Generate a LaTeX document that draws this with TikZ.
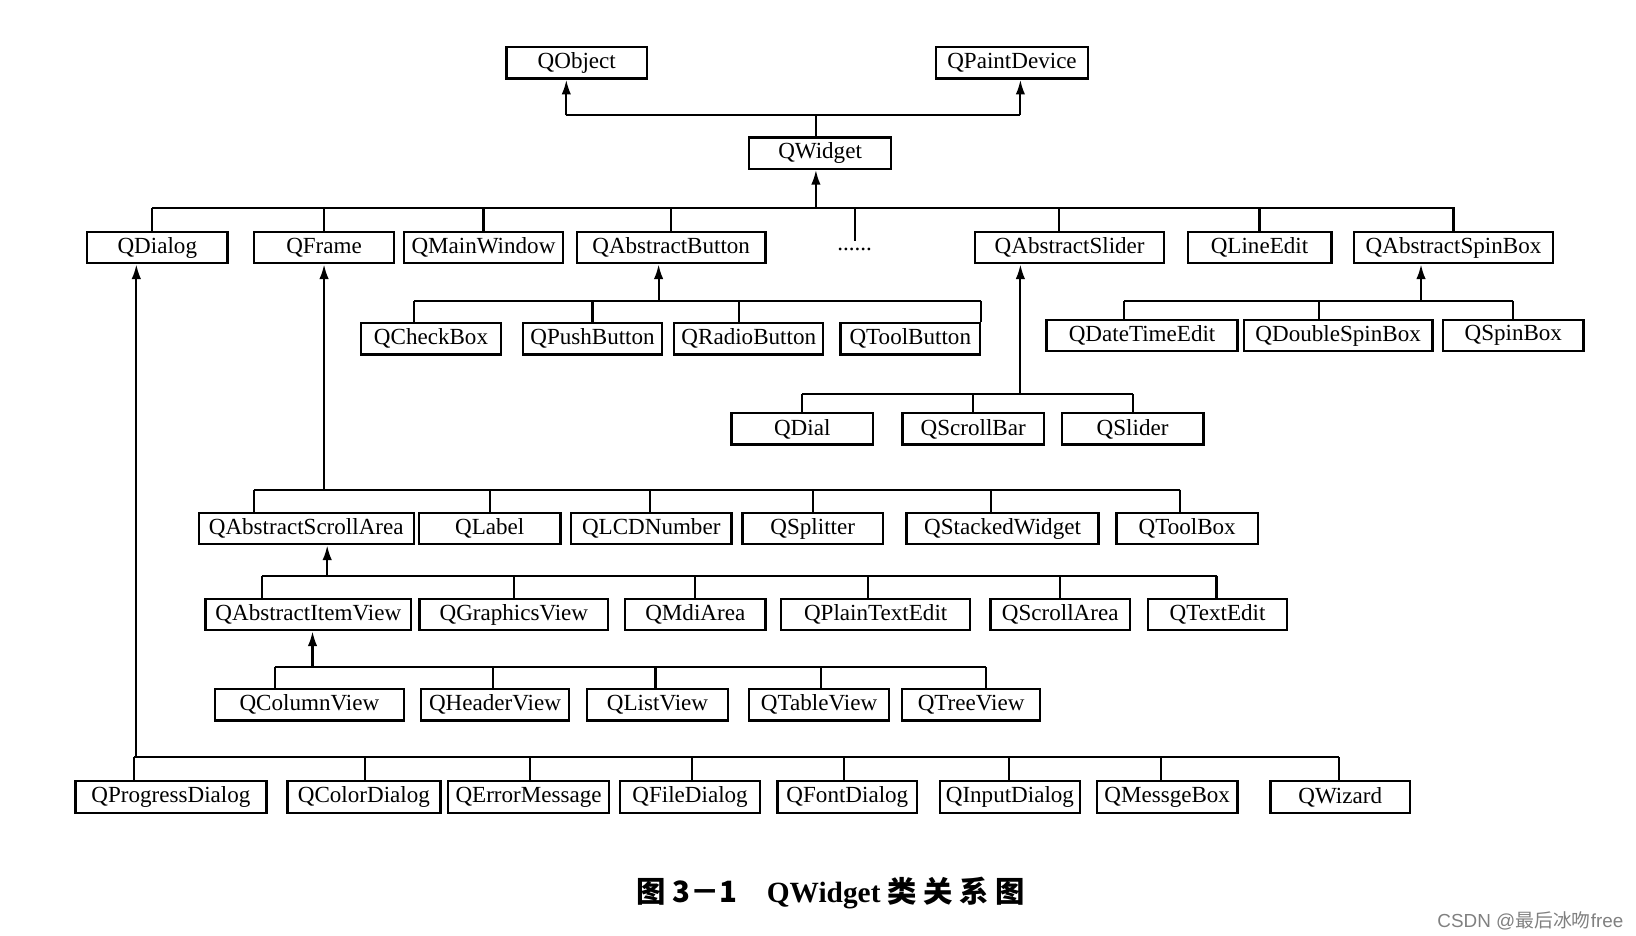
\documentclass[tikz,border=0pt]{standalone}
\usepackage{fontspec}
\setmainfont{Liberation Serif}
\newfontfamily\cjk{Noto Sans CJK SC}
\usetikzlibrary{arrows.meta}
\begin{document}
\begin{tikzpicture}[x=0.5pt,y=-0.5pt,
  cls/.style={draw,line width=1.1pt,minimum height=15pt,inner sep=0pt,font=\fontsize{11}{12}\selectfont},
  ln/.style={line width=1pt},
  up/.style={line width=1pt,-{Latex[length=7pt,width=4.5pt]}}]
\useasboundingbox (0,0) rectangle (1560,892);
\newcommand{\cb}[5]{\node[cls,minimum width=#4*0.5pt] (#1) at (#2,#3) {#5};}
\cb{qobj}{550}{60}{134}{QObject}
\cb{qpd}{965}{60}{145}{QPaintDevice}
\cb{qw}{782}{146}{135}{QWidget}
\cb{qdlg}{150}{236}{134}{QDialog}
\cb{qfr}{309}{236}{134}{QFrame}
\cb{qmw}{461}{236}{152}{QMainWindow}
\cb{qab}{640}{236}{180}{QAbstractButton}
\node[font=\fontsize{11}{12}\selectfont] (dots) at (815,236) {\raisebox{-3pt}{......}};
\cb{qas}{1020}{236}{180}{QAbstractSlider}
\cb{qle}{1201}{236}{137}{QLineEdit}
\cb{qasb}{1386}{236}{190}{QAbstractSpinBox}
\cb{qcb}{411}{323}{133}{QCheckBox}
\cb{qpb}{565}{323}{133}{QPushButton}
\cb{qrb}{714}{323}{142}{QRadioButton}
\cb{qtb}{868}{323}{133}{QToolButton}
\cb{qdte}{1089}{320}{182}{QDateTimeEdit}
\cb{qdsb}{1276}{320}{180}{QDoubleSpinBox}
\cb{qsb}{1443}{320}{134}{QSpinBox}
\cb{qdial}{765}{409}{135}{QDial}
\cb{qsbar}{928}{409}{135}{QScrollBar}
\cb{qsl}{1080}{409}{135}{QSlider}
\cb{qasa}{292}{504}{205}{QAbstractScrollArea}
\cb{qlab}{467}{504}{135}{QLabel}
\cb{qlcd}{621}{504}{153}{QLCDNumber}
\cb{qspl}{775}{504}{134}{QSplitter}
\cb{qsw}{956}{504}{183}{QStackedWidget}
\cb{qtbx}{1132}{504}{135}{QToolBox}
\cb{qaiv}{294}{586}{196}{QAbstractItemView}
\cb{qgv}{490}{586}{180}{QGraphicsView}
\cb{qmdi}{663}{586}{134}{QMdiArea}
\cb{qpte}{835}{586}{180}{QPlainTextEdit}
\cb{qsa}{1011}{586}{133}{QScrollArea}
\cb{qte}{1161}{586}{133}{QTextEdit}
\cb{qcv}{295}{672}{180}{QColumnView}
\cb{qhv}{472}{672}{141}{QHeaderView}
\cb{qlv}{627}{672}{134}{QListView}
\cb{qtv}{781}{672}{134}{QTableView}
\cb{qtrv}{926}{672}{132}{QTreeView}
\cb{qpd2}{163}{760}{182}{QProgressDialog}
\cb{qcd}{347}{760}{146}{QColorDialog}
\cb{qem}{504}{760}{153}{QErrorMessage}
\cb{qfd}{658}{760}{133}{QFileDialog}
\cb{qfnt}{808}{760}{133}{QFontDialog}
\cb{qid}{963}{760}{133}{QInputDialog}
\cb{qmb}{1113}{760}{134}{QMessgeBox}
\cb{qwiz}{1278}{760}{133}{QWizard}
% top
\coordinate (b0) at (778,110);
\draw[ln] (qw.north -| b0) -- (b0);
\draw[ln] (540,110) -- (973,110);
\draw[up] (540,110) -- (540,0 |- qobj.south);
\draw[up] (973,110) -- (973,0 |- qpd.south);
% bus 1
\draw[ln] (145,198) -- (1387,198);
\draw[up] (778,198) -- (778,0 |- qw.south);
\foreach \x/\n in {145/qdlg,309/qfr,461/qmw,640/qab,1010/qas,1201/qle,1386/qasb}
  \draw[ln] (\x,198) -- (\x,0 |- \n.north);
\draw[ln] (815,198) -- (815,230);
% buttons
\draw[ln] (395,287) -- (935,287);
\draw[up] (628,287) -- (628,0 |- qab.south);
\foreach \x/\n in {395/qcb,565/qpb,705/qrb,935/qtb}
  \draw[ln] (\x,287) -- (\x,0 |- \n.north);
% spinbox
\draw[ln] (1072,287) -- (1443,287);
\draw[up] (1355,287) -- (1355,0 |- qasb.south);
\foreach \x/\n in {1072/qdte,1258/qdsb,1443/qsb}
  \draw[ln] (\x,287) -- (\x,0 |- \n.north);
% slider
\draw[ln] (765,376) -- (1080,376);
\draw[up] (973,376) -- (973,0 |- qas.south);
\foreach \x/\n in {765/qdial,928/qsbar,1080/qsl}
  \draw[ln] (\x,376) -- (\x,0 |- \n.north);
% frame
\draw[ln] (242,467) -- (1125,467);
\draw[up] (309,467) -- (309,0 |- qfr.south);
\foreach \x/\n in {242/qasa,467/qlab,620/qlcd,775/qspl,945/qsw,1125/qtbx}
  \draw[ln] (\x,467) -- (\x,0 |- \n.north);
% scroll area
\draw[ln] (250,549) -- (1160,549);
\draw[up] (312,549) -- (312,0 |- qasa.south);
\foreach \x/\n in {250/qaiv,490/qgv,663/qmdi,828/qpte,1011/qsa,1160/qte}
  \draw[ln] (\x,549) -- (\x,0 |- \n.north);
% item view
\draw[ln] (262,636) -- (940,636);
\draw[up] (298,636) -- (298,0 |- qaiv.south);
\foreach \x/\n in {262/qcv,470/qhv,625/qlv,783/qtv,940/qtrv}
  \draw[ln] (\x,636) -- (\x,0 |- \n.north);
% dialogs
\draw[ln] (128,722) -- (1277,722);
\draw[up] (130,722) -- (130,0 |- qdlg.south);
\foreach \x/\n in {128/qpd2,348/qcd,505/qem,660/qfd,805/qfnt,962/qid,1107/qmb,1277/qwiz}
  \draw[ln] (\x,722) -- (\x,0 |- \n.north);
\node[font=\cjk\bfseries\fontsize{14}{16}\selectfont] (cap) at (792,852) {图 3－1\quad {\fontspec{Liberation Serif}\bfseries QWidget} 类 关 系 图};
\node[font=\fontsize{9}{10}\selectfont,text=gray,anchor=east] (wm) at (1555,878) {\fontspec{Liberation Sans}CSDN @{\cjk 最后冰吻}free};
\end{tikzpicture}
\end{document}
